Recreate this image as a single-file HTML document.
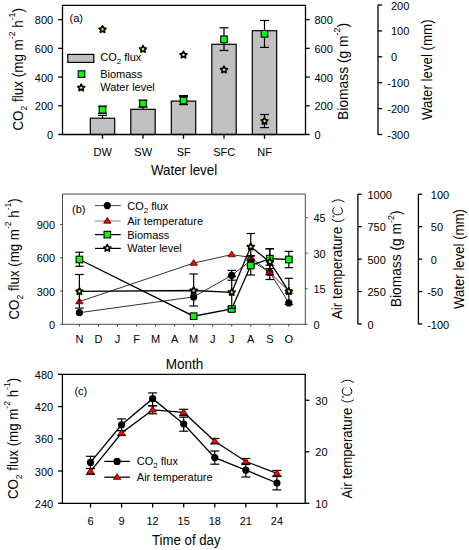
<!DOCTYPE html>
<html><head><meta charset="utf-8"><style>
html,body{margin:0;padding:0;background:#fff;}
body{width:469px;height:550px;overflow:hidden;font-family:"Liberation Sans",sans-serif;}
svg{display:block;}
</style></head><body>
<svg width="469" height="550" viewBox="0 0 469 550" font-family="Liberation Sans, sans-serif" fill="#000">
<rect width="469" height="550" fill="#fff"/>
<rect x="90.30" y="118.20" width="24.4" height="16.30" fill="#c0c0c0" stroke="#000" stroke-width="1.2"/>
<rect x="130.80" y="109.30" width="24.4" height="25.20" fill="#c0c0c0" stroke="#000" stroke-width="1.2"/>
<rect x="171.30" y="101.10" width="24.4" height="33.40" fill="#c0c0c0" stroke="#000" stroke-width="1.2"/>
<rect x="211.80" y="44.30" width="24.4" height="90.20" fill="#c0c0c0" stroke="#000" stroke-width="1.2"/>
<rect x="252.30" y="30.70" width="24.4" height="103.80" fill="#c0c0c0" stroke="#000" stroke-width="1.2"/>
<path d="M62.50,5.30 H305.50 V134.50 H62.50 Z" fill="none" stroke="#000" stroke-width="1.30"/>
<line x1="58.20" y1="134.50" x2="62.50" y2="134.50" stroke="#000" stroke-width="1.30"/>
<line x1="305.50" y1="134.50" x2="309.70" y2="134.50" stroke="#000" stroke-width="1.30"/>
<text x="53.20" y="139.00" font-size="11" text-anchor="end">0</text>
<text x="314.50" y="139.00" font-size="11" text-anchor="start">0</text>
<line x1="58.20" y1="105.78" x2="62.50" y2="105.78" stroke="#000" stroke-width="1.30"/>
<line x1="305.50" y1="105.78" x2="309.70" y2="105.78" stroke="#000" stroke-width="1.30"/>
<text x="53.20" y="110.28" font-size="11" text-anchor="end">200</text>
<text x="314.50" y="110.28" font-size="11" text-anchor="start">200</text>
<line x1="58.20" y1="77.05" x2="62.50" y2="77.05" stroke="#000" stroke-width="1.30"/>
<line x1="305.50" y1="77.05" x2="309.70" y2="77.05" stroke="#000" stroke-width="1.30"/>
<text x="53.20" y="81.55" font-size="11" text-anchor="end">400</text>
<text x="314.50" y="81.55" font-size="11" text-anchor="start">400</text>
<line x1="58.20" y1="48.33" x2="62.50" y2="48.33" stroke="#000" stroke-width="1.30"/>
<line x1="305.50" y1="48.33" x2="309.70" y2="48.33" stroke="#000" stroke-width="1.30"/>
<text x="53.20" y="52.83" font-size="11" text-anchor="end">600</text>
<text x="314.50" y="52.83" font-size="11" text-anchor="start">600</text>
<line x1="58.20" y1="19.60" x2="62.50" y2="19.60" stroke="#000" stroke-width="1.30"/>
<line x1="305.50" y1="19.60" x2="309.70" y2="19.60" stroke="#000" stroke-width="1.30"/>
<text x="53.20" y="24.10" font-size="11" text-anchor="end">800</text>
<text x="314.50" y="24.10" font-size="11" text-anchor="start">800</text>
<line x1="102.50" y1="134.50" x2="102.50" y2="138.80" stroke="#000" stroke-width="1.30"/>
<line x1="143.00" y1="134.50" x2="143.00" y2="138.80" stroke="#000" stroke-width="1.30"/>
<line x1="183.50" y1="134.50" x2="183.50" y2="138.80" stroke="#000" stroke-width="1.30"/>
<line x1="224.00" y1="134.50" x2="224.00" y2="138.80" stroke="#000" stroke-width="1.30"/>
<line x1="264.50" y1="134.50" x2="264.50" y2="138.80" stroke="#000" stroke-width="1.30"/>
<text x="102.70" y="155.70" font-size="11" text-anchor="middle">DW</text>
<text x="143.20" y="155.70" font-size="11" text-anchor="middle">SW</text>
<text x="183.70" y="155.70" font-size="11" text-anchor="middle">SF</text>
<text x="224.20" y="155.70" font-size="11" text-anchor="middle">SFC</text>
<text x="264.70" y="155.70" font-size="11" text-anchor="middle">NF</text>
<text x="184.10" y="174.50" font-size="14" text-anchor="middle" textLength="66.10" lengthAdjust="spacingAndGlyphs">Water level</text>
<line x1="378.00" y1="5.00" x2="378.00" y2="135.10" stroke="#000" stroke-width="1.30"/>
<line x1="378.00" y1="5.00" x2="382.20" y2="5.00" stroke="#000" stroke-width="1.30"/>
<text x="391.00" y="9.50" font-size="11" text-anchor="start">200</text>
<line x1="378.00" y1="30.90" x2="382.20" y2="30.90" stroke="#000" stroke-width="1.30"/>
<text x="391.00" y="35.40" font-size="11" text-anchor="start">100</text>
<line x1="378.00" y1="56.80" x2="382.20" y2="56.80" stroke="#000" stroke-width="1.30"/>
<text x="391.00" y="61.30" font-size="11" text-anchor="start">0</text>
<line x1="378.00" y1="82.70" x2="382.20" y2="82.70" stroke="#000" stroke-width="1.30"/>
<text x="387.34" y="87.20" font-size="11" text-anchor="start">-100</text>
<line x1="378.00" y1="108.60" x2="382.20" y2="108.60" stroke="#000" stroke-width="1.30"/>
<text x="387.34" y="113.10" font-size="11" text-anchor="start">-200</text>
<line x1="378.00" y1="134.50" x2="382.20" y2="134.50" stroke="#000" stroke-width="1.30"/>
<text x="387.34" y="139.00" font-size="11" text-anchor="start">-300</text>
<text transform="translate(22.50,130.60) rotate(-90)" font-size="14" text-anchor="start" textLength="122.50" lengthAdjust="spacingAndGlyphs">CO<tspan font-size="9" dy="4.0">2</tspan><tspan dy="-4.0"> flux (mg m</tspan><tspan font-size="9" dy="-7.8">-2</tspan><tspan dy="7.8"> h</tspan><tspan font-size="9" dy="-7.8">-1</tspan><tspan dy="7.8">)</tspan></text>
<text transform="translate(347.70,119.90) rotate(-90)" font-size="14" text-anchor="start" textLength="97.05" lengthAdjust="spacingAndGlyphs">Biomass (g m<tspan font-size="9" dy="-7.6">-2</tspan><tspan dy="7.6">)</tspan></text>
<text transform="translate(431.80,120.00) rotate(-90)" font-size="14" text-anchor="start" textLength="100.60" lengthAdjust="spacingAndGlyphs">Water level (mm)</text>
<text x="69.50" y="22.40" font-size="11" text-anchor="start">(a)</text>
<line x1="102.50" y1="115.40" x2="102.50" y2="118.20" stroke="#000" stroke-width="1.20"/><line x1="98.00" y1="115.40" x2="107.00" y2="115.40" stroke="#000" stroke-width="1.20"/>
<line x1="143.00" y1="107.00" x2="143.00" y2="109.30" stroke="#000" stroke-width="1.20"/><line x1="138.50" y1="107.00" x2="147.50" y2="107.00" stroke="#000" stroke-width="1.20"/>
<line x1="183.50" y1="95.60" x2="183.50" y2="101.10" stroke="#000" stroke-width="1.20"/><line x1="179.00" y1="95.60" x2="188.00" y2="95.60" stroke="#000" stroke-width="1.20"/>
<line x1="102.50" y1="106.10" x2="102.50" y2="113.50" stroke="#000" stroke-width="1.20"/><line x1="98.00" y1="106.10" x2="107.00" y2="106.10" stroke="#000" stroke-width="1.20"/><line x1="98.00" y1="113.50" x2="107.00" y2="113.50" stroke="#000" stroke-width="1.20"/>
<line x1="143.00" y1="100.30" x2="143.00" y2="106.80" stroke="#000" stroke-width="1.20"/><line x1="138.50" y1="100.30" x2="147.50" y2="100.30" stroke="#000" stroke-width="1.20"/><line x1="138.50" y1="106.80" x2="147.50" y2="106.80" stroke="#000" stroke-width="1.20"/>
<line x1="183.50" y1="96.60" x2="183.50" y2="104.60" stroke="#000" stroke-width="1.20"/><line x1="179.00" y1="96.60" x2="188.00" y2="96.60" stroke="#000" stroke-width="1.20"/><line x1="179.00" y1="104.60" x2="188.00" y2="104.60" stroke="#000" stroke-width="1.20"/>
<line x1="224.00" y1="27.80" x2="224.00" y2="50.50" stroke="#000" stroke-width="1.20"/><line x1="219.50" y1="27.80" x2="228.50" y2="27.80" stroke="#000" stroke-width="1.20"/><line x1="219.50" y1="50.50" x2="228.50" y2="50.50" stroke="#000" stroke-width="1.20"/>
<line x1="264.50" y1="20.50" x2="264.50" y2="47.40" stroke="#000" stroke-width="1.20"/><line x1="260.00" y1="20.50" x2="269.00" y2="20.50" stroke="#000" stroke-width="1.20"/><line x1="260.00" y1="47.40" x2="269.00" y2="47.40" stroke="#000" stroke-width="1.20"/>
<rect x="99.20" y="106.50" width="6.60" height="6.60" fill="#00ff00" stroke="#000" stroke-width="1.10"/>
<rect x="139.70" y="100.20" width="6.60" height="6.60" fill="#00ff00" stroke="#000" stroke-width="1.10"/>
<rect x="180.20" y="97.20" width="6.60" height="6.60" fill="#00ff00" stroke="#000" stroke-width="1.10"/>
<rect x="220.70" y="36.00" width="6.60" height="6.60" fill="#00ff00" stroke="#000" stroke-width="1.10"/>
<rect x="261.20" y="30.50" width="6.60" height="6.60" fill="#00ff00" stroke="#000" stroke-width="1.10"/>
<line x1="264.50" y1="114.50" x2="264.50" y2="127.60" stroke="#000" stroke-width="1.20"/><line x1="260.00" y1="114.50" x2="269.00" y2="114.50" stroke="#000" stroke-width="1.20"/><line x1="260.00" y1="127.60" x2="269.00" y2="127.60" stroke="#000" stroke-width="1.20"/>
<polygon points="102.50,25.80 103.56,27.94 105.92,28.29 104.21,29.96 104.62,32.31 102.50,31.20 100.38,32.31 100.79,29.96 99.08,28.29 101.44,27.94" fill="#ffff00" stroke="#000" stroke-width="1.70" stroke-linejoin="round"/>
<polygon points="143.00,45.60 144.06,47.74 146.42,48.09 144.71,49.76 145.12,52.11 143.00,51.00 140.88,52.11 141.29,49.76 139.58,48.09 141.94,47.74" fill="#ffff00" stroke="#000" stroke-width="1.70" stroke-linejoin="round"/>
<polygon points="183.50,51.30 184.56,53.44 186.92,53.79 185.21,55.46 185.62,57.81 183.50,56.70 181.38,57.81 181.79,55.46 180.08,53.79 182.44,53.44" fill="#ffff00" stroke="#000" stroke-width="1.70" stroke-linejoin="round"/>
<polygon points="224.00,66.20 225.06,68.34 227.42,68.69 225.71,70.36 226.12,72.71 224.00,71.60 221.88,72.71 222.29,70.36 220.58,68.69 222.94,68.34" fill="#ffff00" stroke="#000" stroke-width="1.70" stroke-linejoin="round"/>
<polygon points="264.50,117.50 265.56,119.64 267.92,119.99 266.21,121.66 266.62,124.01 264.50,122.90 262.38,124.01 262.79,121.66 261.08,119.99 263.44,119.64" fill="#ffff00" stroke="#000" stroke-width="1.70" stroke-linejoin="round"/>
<rect x="67.8" y="54.4" width="26" height="8" fill="#c0c0c0" stroke="#000" stroke-width="1.2"/>
<text x="100.20" y="61.00" font-size="11" text-anchor="start">CO<tspan font-size="8" dy="3">2</tspan><tspan dy="-3"> flux</tspan></text>
<rect x="78.20" y="70.80" width="6.60" height="6.60" fill="#00ff00" stroke="#000" stroke-width="1.10"/>
<text x="100.20" y="78.00" font-size="11" text-anchor="start">Biomass</text>
<polygon points="81.20,84.20 82.26,86.34 84.62,86.69 82.91,88.36 83.32,90.71 81.20,89.60 79.08,90.71 79.49,88.36 77.78,86.69 80.14,86.34" fill="#ffff00" stroke="#000" stroke-width="1.70" stroke-linejoin="round"/>
<text x="100.20" y="91.20" font-size="11" text-anchor="start">Water level</text>
<path d="M62.50,194.00 H305.30 V324.30 H62.50 Z" fill="none" stroke="#4a4a4a" stroke-width="1.00"/>
<line x1="60.10" y1="324.30" x2="62.50" y2="324.30" stroke="#4a4a4a" stroke-width="1.00"/>
<text x="55.10" y="328.80" font-size="11" text-anchor="end">0</text>
<line x1="60.10" y1="291.03" x2="62.50" y2="291.03" stroke="#4a4a4a" stroke-width="1.00"/>
<text x="55.10" y="295.53" font-size="11" text-anchor="end">300</text>
<line x1="60.10" y1="257.77" x2="62.50" y2="257.77" stroke="#4a4a4a" stroke-width="1.00"/>
<text x="55.10" y="262.27" font-size="11" text-anchor="end">600</text>
<line x1="60.10" y1="224.50" x2="62.50" y2="224.50" stroke="#4a4a4a" stroke-width="1.00"/>
<text x="55.10" y="229.00" font-size="11" text-anchor="end">900</text>
<line x1="305.30" y1="324.30" x2="307.70" y2="324.30" stroke="#4a4a4a" stroke-width="1.00"/>
<text x="313.50" y="328.80" font-size="11" text-anchor="start">0</text>
<line x1="305.30" y1="288.75" x2="307.70" y2="288.75" stroke="#4a4a4a" stroke-width="1.00"/>
<text x="313.50" y="293.25" font-size="11" text-anchor="start">15</text>
<line x1="305.30" y1="253.20" x2="307.70" y2="253.20" stroke="#4a4a4a" stroke-width="1.00"/>
<text x="313.50" y="257.70" font-size="11" text-anchor="start">30</text>
<line x1="305.30" y1="217.65" x2="307.70" y2="217.65" stroke="#4a4a4a" stroke-width="1.00"/>
<text x="313.50" y="222.15" font-size="11" text-anchor="start">45</text>
<line x1="79.40" y1="324.30" x2="79.40" y2="326.70" stroke="#4a4a4a" stroke-width="1.00"/>
<text x="79.40" y="342.60" font-size="11" text-anchor="middle">N</text>
<line x1="98.44" y1="324.30" x2="98.44" y2="326.70" stroke="#4a4a4a" stroke-width="1.00"/>
<text x="98.44" y="342.60" font-size="11" text-anchor="middle">D</text>
<line x1="117.48" y1="324.30" x2="117.48" y2="326.70" stroke="#4a4a4a" stroke-width="1.00"/>
<text x="117.48" y="342.60" font-size="11" text-anchor="middle">J</text>
<line x1="136.52" y1="324.30" x2="136.52" y2="326.70" stroke="#4a4a4a" stroke-width="1.00"/>
<text x="136.52" y="342.60" font-size="11" text-anchor="middle">F</text>
<line x1="155.56" y1="324.30" x2="155.56" y2="326.70" stroke="#4a4a4a" stroke-width="1.00"/>
<text x="155.56" y="342.60" font-size="11" text-anchor="middle">M</text>
<line x1="174.60" y1="324.30" x2="174.60" y2="326.70" stroke="#4a4a4a" stroke-width="1.00"/>
<text x="174.60" y="342.60" font-size="11" text-anchor="middle">A</text>
<line x1="193.64" y1="324.30" x2="193.64" y2="326.70" stroke="#4a4a4a" stroke-width="1.00"/>
<text x="193.64" y="342.60" font-size="11" text-anchor="middle">M</text>
<line x1="212.68" y1="324.30" x2="212.68" y2="326.70" stroke="#4a4a4a" stroke-width="1.00"/>
<text x="212.68" y="342.60" font-size="11" text-anchor="middle">J</text>
<line x1="231.72" y1="324.30" x2="231.72" y2="326.70" stroke="#4a4a4a" stroke-width="1.00"/>
<text x="231.72" y="342.60" font-size="11" text-anchor="middle">J</text>
<line x1="250.76" y1="324.30" x2="250.76" y2="326.70" stroke="#4a4a4a" stroke-width="1.00"/>
<text x="250.76" y="342.60" font-size="11" text-anchor="middle">A</text>
<line x1="269.80" y1="324.30" x2="269.80" y2="326.70" stroke="#4a4a4a" stroke-width="1.00"/>
<text x="269.80" y="342.60" font-size="11" text-anchor="middle">S</text>
<line x1="288.84" y1="324.30" x2="288.84" y2="326.70" stroke="#4a4a4a" stroke-width="1.00"/>
<text x="288.84" y="342.60" font-size="11" text-anchor="middle">O</text>
<text x="184.50" y="368.90" font-size="14" text-anchor="middle" textLength="37.60" lengthAdjust="spacingAndGlyphs">Month</text>
<line x1="357.90" y1="194.00" x2="357.90" y2="324.30" stroke="#000" stroke-width="1.30"/>
<line x1="357.90" y1="324.00" x2="361.70" y2="324.00" stroke="#000" stroke-width="1.30"/>
<text x="367.50" y="328.50" font-size="11" text-anchor="start">0</text>
<line x1="357.90" y1="291.55" x2="361.70" y2="291.55" stroke="#000" stroke-width="1.30"/>
<text x="367.50" y="296.05" font-size="11" text-anchor="start">250</text>
<line x1="357.90" y1="259.10" x2="361.70" y2="259.10" stroke="#000" stroke-width="1.30"/>
<text x="367.50" y="263.60" font-size="11" text-anchor="start">500</text>
<line x1="357.90" y1="226.65" x2="361.70" y2="226.65" stroke="#000" stroke-width="1.30"/>
<text x="367.50" y="231.15" font-size="11" text-anchor="start">750</text>
<line x1="357.90" y1="194.20" x2="361.70" y2="194.20" stroke="#000" stroke-width="1.30"/>
<text x="367.50" y="198.70" font-size="11" text-anchor="start">1000</text>
<line x1="418.40" y1="194.00" x2="418.40" y2="324.30" stroke="#000" stroke-width="1.30"/>
<line x1="418.40" y1="324.00" x2="422.20" y2="324.00" stroke="#000" stroke-width="1.30"/>
<text x="427.14" y="328.50" font-size="11" text-anchor="start">-100</text>
<line x1="418.40" y1="291.55" x2="422.20" y2="291.55" stroke="#000" stroke-width="1.30"/>
<text x="427.14" y="296.05" font-size="11" text-anchor="start">-50</text>
<line x1="418.40" y1="259.10" x2="422.20" y2="259.10" stroke="#000" stroke-width="1.30"/>
<text x="430.80" y="263.60" font-size="11" text-anchor="start">0</text>
<line x1="418.40" y1="226.65" x2="422.20" y2="226.65" stroke="#000" stroke-width="1.30"/>
<text x="430.80" y="231.15" font-size="11" text-anchor="start">50</text>
<line x1="418.40" y1="194.20" x2="422.20" y2="194.20" stroke="#000" stroke-width="1.30"/>
<text x="430.80" y="198.70" font-size="11" text-anchor="start">100</text>
<text transform="translate(19.00,319.50) rotate(-90)" font-size="14" text-anchor="start" textLength="121.20" lengthAdjust="spacingAndGlyphs">CO<tspan font-size="9" dy="4.0">2</tspan><tspan dy="-4.0"> flux (mg m</tspan><tspan font-size="9" dy="-7.8">-2</tspan><tspan dy="7.8"> h</tspan><tspan font-size="9" dy="-7.8">-1</tspan><tspan dy="7.8">)</tspan></text>
<text transform="translate(342.40,319.20) rotate(-90)" font-size="14" text-anchor="start" textLength="92.50" lengthAdjust="spacingAndGlyphs">Air temperature</text>
<g transform="translate(342.40,222.30) rotate(-90)" fill="none" stroke="#000" stroke-width="0.95"><path d="M3.0,-10.6 Q-1.6,-4.2 3.0,2.1"/><circle cx="5.9" cy="-8.9" r="0.75" stroke-width="0.6"/><path d="M14.9,-7.8 Q14.0,-9.6 11.3,-9.6 Q7.5,-9.6 7.5,-4.8 Q7.5,0.0 11.3,0.0 Q14.0,0.0 15.0,-2.0"/><path d="M20.2,-10.6 Q24.8,-4.2 20.2,2.1"/></g>
<text transform="translate(401.20,307.20) rotate(-90)" font-size="14" text-anchor="start" textLength="96.75" lengthAdjust="spacingAndGlyphs">Biomass (g m<tspan font-size="9" dy="-7.6">-2</tspan><tspan dy="7.6">)</tspan></text>
<text transform="translate(463.60,309.00) rotate(-90)" font-size="14" text-anchor="start" textLength="100.00" lengthAdjust="spacingAndGlyphs">Water level (mm)</text>
<text x="72.00" y="212.80" font-size="11" text-anchor="start">(b)</text>
<polyline points="79.40,312.70 193.64,296.90 231.72,275.30 250.76,260.60 269.80,272.30 288.84,302.90" fill="none" stroke="#333" stroke-width="1.00" stroke-linejoin="miter"/>
<polyline points="79.40,301.60 193.64,263.10 231.72,254.60 250.76,257.40 269.80,272.40 288.84,291.20" fill="none" stroke="#333" stroke-width="1.00" stroke-linejoin="miter"/>
<polyline points="79.40,259.50 193.64,316.20 231.72,309.00 250.76,265.50 269.80,258.60 288.84,259.50" fill="none" stroke="#000" stroke-width="1.30" stroke-linejoin="miter"/>
<polyline points="79.40,291.40 193.64,290.50 231.72,292.30 250.76,246.80 269.80,261.90 288.84,291.40" fill="none" stroke="#000" stroke-width="1.30" stroke-linejoin="miter"/>
<line x1="231.72" y1="270.40" x2="231.72" y2="280.20" stroke="#000" stroke-width="1.20"/><line x1="227.47" y1="270.40" x2="235.97" y2="270.40" stroke="#000" stroke-width="1.20"/><line x1="227.47" y1="280.20" x2="235.97" y2="280.20" stroke="#000" stroke-width="1.20"/>
<line x1="250.76" y1="255.70" x2="250.76" y2="265.50" stroke="#000" stroke-width="1.20"/><line x1="246.51" y1="255.70" x2="255.01" y2="255.70" stroke="#000" stroke-width="1.20"/><line x1="246.51" y1="265.50" x2="255.01" y2="265.50" stroke="#000" stroke-width="1.20"/>
<line x1="269.80" y1="265.30" x2="269.80" y2="279.50" stroke="#000" stroke-width="1.20"/><line x1="265.55" y1="265.30" x2="274.05" y2="265.30" stroke="#000" stroke-width="1.20"/><line x1="265.55" y1="279.50" x2="274.05" y2="279.50" stroke="#000" stroke-width="1.20"/>
<circle cx="79.40" cy="312.70" r="3.60" fill="#000"/>
<circle cx="193.64" cy="296.90" r="3.60" fill="#000"/>
<circle cx="231.72" cy="275.30" r="3.60" fill="#000"/>
<circle cx="250.76" cy="260.60" r="3.60" fill="#000"/>
<circle cx="269.80" cy="272.30" r="3.60" fill="#000"/>
<circle cx="288.84" cy="302.90" r="3.60" fill="#000"/>
<polygon points="79.40,298.07 75.70,303.77 83.10,303.77" fill="#ff0000" stroke="#300" stroke-width="0.80" stroke-linejoin="miter"/>
<polygon points="193.64,259.57 189.94,265.27 197.34,265.27" fill="#ff0000" stroke="#300" stroke-width="0.80" stroke-linejoin="miter"/>
<polygon points="231.72,251.07 228.02,256.77 235.42,256.77" fill="#ff0000" stroke="#300" stroke-width="0.80" stroke-linejoin="miter"/>
<polygon points="250.76,253.87 247.06,259.57 254.46,259.57" fill="#ff0000" stroke="#300" stroke-width="0.80" stroke-linejoin="miter"/>
<polygon points="269.80,268.87 266.10,274.57 273.50,274.57" fill="#ff0000" stroke="#300" stroke-width="0.80" stroke-linejoin="miter"/>
<polygon points="288.84,287.67 285.14,293.37 292.54,293.37" fill="#ff0000" stroke="#300" stroke-width="0.80" stroke-linejoin="miter"/>
<line x1="79.40" y1="252.20" x2="79.40" y2="266.30" stroke="#000" stroke-width="1.20"/><line x1="75.15" y1="252.20" x2="83.65" y2="252.20" stroke="#000" stroke-width="1.20"/><line x1="75.15" y1="266.30" x2="83.65" y2="266.30" stroke="#000" stroke-width="1.20"/>
<line x1="231.72" y1="306.80" x2="231.72" y2="311.20" stroke="#000" stroke-width="1.20"/><line x1="227.47" y1="306.80" x2="235.97" y2="306.80" stroke="#000" stroke-width="1.20"/><line x1="227.47" y1="311.20" x2="235.97" y2="311.20" stroke="#000" stroke-width="1.20"/>
<line x1="250.76" y1="256.00" x2="250.76" y2="275.00" stroke="#000" stroke-width="1.20"/><line x1="246.51" y1="256.00" x2="255.01" y2="256.00" stroke="#000" stroke-width="1.20"/><line x1="246.51" y1="275.00" x2="255.01" y2="275.00" stroke="#000" stroke-width="1.20"/>
<line x1="269.80" y1="248.60" x2="269.80" y2="268.60" stroke="#000" stroke-width="1.20"/><line x1="265.55" y1="248.60" x2="274.05" y2="248.60" stroke="#000" stroke-width="1.20"/><line x1="265.55" y1="268.60" x2="274.05" y2="268.60" stroke="#000" stroke-width="1.20"/>
<line x1="288.84" y1="251.40" x2="288.84" y2="267.70" stroke="#000" stroke-width="1.20"/><line x1="284.59" y1="251.40" x2="293.09" y2="251.40" stroke="#000" stroke-width="1.20"/><line x1="284.59" y1="267.70" x2="293.09" y2="267.70" stroke="#000" stroke-width="1.20"/>
<rect x="76.10" y="256.20" width="6.60" height="6.60" fill="#00ff00" stroke="#000" stroke-width="1.10"/>
<rect x="190.34" y="312.90" width="6.60" height="6.60" fill="#00ff00" stroke="#000" stroke-width="1.10"/>
<rect x="228.42" y="305.70" width="6.60" height="6.60" fill="#00ff00" stroke="#000" stroke-width="1.10"/>
<rect x="247.46" y="262.20" width="6.60" height="6.60" fill="#00ff00" stroke="#000" stroke-width="1.10"/>
<rect x="266.50" y="255.30" width="6.60" height="6.60" fill="#00ff00" stroke="#000" stroke-width="1.10"/>
<rect x="285.54" y="256.20" width="6.60" height="6.60" fill="#00ff00" stroke="#000" stroke-width="1.10"/>
<line x1="79.40" y1="274.50" x2="79.40" y2="308.10" stroke="#000" stroke-width="1.20"/><line x1="75.15" y1="274.50" x2="83.65" y2="274.50" stroke="#000" stroke-width="1.20"/><line x1="75.15" y1="308.10" x2="83.65" y2="308.10" stroke="#000" stroke-width="1.20"/>
<line x1="193.64" y1="274.00" x2="193.64" y2="306.00" stroke="#000" stroke-width="1.20"/><line x1="189.39" y1="274.00" x2="197.89" y2="274.00" stroke="#000" stroke-width="1.20"/><line x1="189.39" y1="306.00" x2="197.89" y2="306.00" stroke="#000" stroke-width="1.20"/>
<line x1="231.72" y1="276.30" x2="231.72" y2="308.40" stroke="#000" stroke-width="1.20"/><line x1="227.47" y1="276.30" x2="235.97" y2="276.30" stroke="#000" stroke-width="1.20"/><line x1="227.47" y1="308.40" x2="235.97" y2="308.40" stroke="#000" stroke-width="1.20"/>
<line x1="250.76" y1="233.50" x2="250.76" y2="260.10" stroke="#000" stroke-width="1.20"/><line x1="246.51" y1="233.50" x2="255.01" y2="233.50" stroke="#000" stroke-width="1.20"/><line x1="246.51" y1="260.10" x2="255.01" y2="260.10" stroke="#000" stroke-width="1.20"/>
<line x1="269.80" y1="248.90" x2="269.80" y2="274.90" stroke="#000" stroke-width="1.20"/><line x1="265.55" y1="248.90" x2="274.05" y2="248.90" stroke="#000" stroke-width="1.20"/><line x1="265.55" y1="274.90" x2="274.05" y2="274.90" stroke="#000" stroke-width="1.20"/>
<line x1="288.84" y1="278.30" x2="288.84" y2="304.40" stroke="#000" stroke-width="1.20"/><line x1="284.59" y1="278.30" x2="293.09" y2="278.30" stroke="#000" stroke-width="1.20"/><line x1="284.59" y1="304.40" x2="293.09" y2="304.40" stroke="#000" stroke-width="1.20"/>
<polygon points="79.40,287.80 80.46,289.94 82.82,290.29 81.11,291.96 81.52,294.31 79.40,293.20 77.28,294.31 77.69,291.96 75.98,290.29 78.34,289.94" fill="#ffff00" stroke="#000" stroke-width="1.70" stroke-linejoin="round"/>
<polygon points="193.64,286.90 194.70,289.04 197.06,289.39 195.35,291.06 195.76,293.41 193.64,292.30 191.52,293.41 191.93,291.06 190.22,289.39 192.58,289.04" fill="#ffff00" stroke="#000" stroke-width="1.70" stroke-linejoin="round"/>
<polygon points="231.72,288.70 232.78,290.84 235.14,291.19 233.43,292.86 233.84,295.21 231.72,294.10 229.60,295.21 230.01,292.86 228.30,291.19 230.66,290.84" fill="#ffff00" stroke="#000" stroke-width="1.70" stroke-linejoin="round"/>
<polygon points="250.76,243.20 251.82,245.34 254.18,245.69 252.47,247.36 252.88,249.71 250.76,248.60 248.64,249.71 249.05,247.36 247.34,245.69 249.70,245.34" fill="#ffff00" stroke="#000" stroke-width="1.70" stroke-linejoin="round"/>
<polygon points="269.80,258.30 270.86,260.44 273.22,260.79 271.51,262.46 271.92,264.81 269.80,263.70 267.68,264.81 268.09,262.46 266.38,260.79 268.74,260.44" fill="#ffff00" stroke="#000" stroke-width="1.70" stroke-linejoin="round"/>
<polygon points="288.84,287.80 289.90,289.94 292.26,290.29 290.55,291.96 290.96,294.31 288.84,293.20 286.72,294.31 287.13,291.96 285.42,290.29 287.78,289.94" fill="#ffff00" stroke="#000" stroke-width="1.70" stroke-linejoin="round"/>
<line x1="95.00" y1="205.60" x2="120.80" y2="205.60" stroke="#333" stroke-width="0.90"/>
<circle cx="107.30" cy="205.60" r="3.60" fill="#000"/>
<line x1="95.00" y1="221.00" x2="120.80" y2="221.00" stroke="#999" stroke-width="1.20"/>
<polygon points="107.30,217.47 103.60,223.17 111.00,223.17" fill="#ff0000" stroke="#300" stroke-width="0.80" stroke-linejoin="miter"/>
<line x1="95.00" y1="234.60" x2="120.80" y2="234.60" stroke="#000" stroke-width="1.20"/>
<rect x="104.00" y="231.30" width="6.60" height="6.60" fill="#00ff00" stroke="#000" stroke-width="1.10"/>
<line x1="95.00" y1="248.40" x2="120.80" y2="248.40" stroke="#000" stroke-width="1.20"/>
<polygon points="107.30,244.60 108.36,246.74 110.72,247.09 109.01,248.76 109.42,251.11 107.30,250.00 105.18,251.11 105.59,248.76 103.88,247.09 106.24,246.74" fill="#ffff00" stroke="#000" stroke-width="1.70" stroke-linejoin="round"/>
<text x="127.20" y="209.60" font-size="11" text-anchor="start">CO<tspan font-size="8" dy="3">2</tspan><tspan dy="-3"> flux</tspan></text>
<text x="127.20" y="225.00" font-size="11" text-anchor="start">Air temperature</text>
<text x="127.20" y="238.60" font-size="11" text-anchor="start">Biomass</text>
<text x="127.20" y="252.40" font-size="11" text-anchor="start">Water level</text>
<path d="M62.40,374.30 H305.20 V503.30 H62.40 Z" fill="none" stroke="#000" stroke-width="1.30"/>
<line x1="58.10" y1="503.30" x2="62.40" y2="503.30" stroke="#000" stroke-width="1.30"/>
<text x="53.20" y="507.80" font-size="11" text-anchor="end">240</text>
<line x1="58.10" y1="471.05" x2="62.40" y2="471.05" stroke="#000" stroke-width="1.30"/>
<text x="53.20" y="475.55" font-size="11" text-anchor="end">300</text>
<line x1="58.10" y1="438.80" x2="62.40" y2="438.80" stroke="#000" stroke-width="1.30"/>
<text x="53.20" y="443.30" font-size="11" text-anchor="end">360</text>
<line x1="58.10" y1="406.55" x2="62.40" y2="406.55" stroke="#000" stroke-width="1.30"/>
<text x="53.20" y="411.05" font-size="11" text-anchor="end">420</text>
<line x1="58.10" y1="374.30" x2="62.40" y2="374.30" stroke="#000" stroke-width="1.30"/>
<text x="53.20" y="378.80" font-size="11" text-anchor="end">480</text>
<line x1="305.20" y1="503.30" x2="309.40" y2="503.30" stroke="#000" stroke-width="1.30"/>
<text x="315.30" y="507.80" font-size="11" text-anchor="start">10</text>
<line x1="305.20" y1="451.80" x2="309.40" y2="451.80" stroke="#000" stroke-width="1.30"/>
<text x="315.30" y="456.30" font-size="11" text-anchor="start">20</text>
<line x1="305.20" y1="400.30" x2="309.40" y2="400.30" stroke="#000" stroke-width="1.30"/>
<text x="315.30" y="404.80" font-size="11" text-anchor="start">30</text>
<line x1="90.50" y1="503.30" x2="90.50" y2="507.60" stroke="#000" stroke-width="1.30"/>
<text x="90.50" y="525.00" font-size="11" text-anchor="middle">6</text>
<line x1="121.57" y1="503.30" x2="121.57" y2="507.60" stroke="#000" stroke-width="1.30"/>
<text x="121.57" y="525.00" font-size="11" text-anchor="middle">9</text>
<line x1="152.64" y1="503.30" x2="152.64" y2="507.60" stroke="#000" stroke-width="1.30"/>
<text x="152.64" y="525.00" font-size="11" text-anchor="middle">12</text>
<line x1="183.71" y1="503.30" x2="183.71" y2="507.60" stroke="#000" stroke-width="1.30"/>
<text x="183.71" y="525.00" font-size="11" text-anchor="middle">15</text>
<line x1="214.78" y1="503.30" x2="214.78" y2="507.60" stroke="#000" stroke-width="1.30"/>
<text x="214.78" y="525.00" font-size="11" text-anchor="middle">18</text>
<line x1="245.85" y1="503.30" x2="245.85" y2="507.60" stroke="#000" stroke-width="1.30"/>
<text x="245.85" y="525.00" font-size="11" text-anchor="middle">21</text>
<line x1="276.92" y1="503.30" x2="276.92" y2="507.60" stroke="#000" stroke-width="1.30"/>
<text x="276.92" y="525.00" font-size="11" text-anchor="middle">24</text>
<text x="186.30" y="545.20" font-size="14" text-anchor="middle" textLength="68.50" lengthAdjust="spacingAndGlyphs">Time of day</text>
<text transform="translate(17.50,499.10) rotate(-90)" font-size="14" text-anchor="start" textLength="121.20" lengthAdjust="spacingAndGlyphs">CO<tspan font-size="9" dy="4.0">2</tspan><tspan dy="-4.0"> flux (mg m</tspan><tspan font-size="9" dy="-7.8">-2</tspan><tspan dy="7.8"> h</tspan><tspan font-size="9" dy="-7.8">-1</tspan><tspan dy="7.8">)</tspan></text>
<text transform="translate(351.80,498.50) rotate(-90)" font-size="14" text-anchor="start" textLength="90.90" lengthAdjust="spacingAndGlyphs">Air temperature</text>
<g transform="translate(351.80,402.70) rotate(-90)" fill="none" stroke="#000" stroke-width="0.95"><path d="M3.0,-10.6 Q-1.6,-4.2 3.0,2.1"/><circle cx="5.9" cy="-8.9" r="0.75" stroke-width="0.6"/><path d="M14.9,-7.8 Q14.0,-9.6 11.3,-9.6 Q7.5,-9.6 7.5,-4.8 Q7.5,0.0 11.3,0.0 Q14.0,0.0 15.0,-2.0"/><path d="M20.2,-10.6 Q24.8,-4.2 20.2,2.1"/></g>
<text x="74.40" y="394.60" font-size="11" text-anchor="start">(c)</text>
<polyline points="90.50,462.40 121.57,424.80 152.64,398.70 183.71,424.00 214.78,457.60 245.85,470.10 276.92,483.00" fill="none" stroke="#000" stroke-width="1.30" stroke-linejoin="miter"/>
<polyline points="90.50,471.40 121.57,433.00 152.64,409.90 183.71,412.40 214.78,441.20 245.85,461.50 276.92,473.40" fill="none" stroke="#000" stroke-width="1.30" stroke-linejoin="miter"/>
<line x1="90.50" y1="456.30" x2="90.50" y2="468.50" stroke="#000" stroke-width="1.20"/><line x1="86.00" y1="456.30" x2="95.00" y2="456.30" stroke="#000" stroke-width="1.20"/><line x1="86.00" y1="468.50" x2="95.00" y2="468.50" stroke="#000" stroke-width="1.20"/>
<line x1="121.57" y1="418.90" x2="121.57" y2="430.70" stroke="#000" stroke-width="1.20"/><line x1="117.07" y1="418.90" x2="126.07" y2="418.90" stroke="#000" stroke-width="1.20"/><line x1="117.07" y1="430.70" x2="126.07" y2="430.70" stroke="#000" stroke-width="1.20"/>
<line x1="152.64" y1="392.90" x2="152.64" y2="405.60" stroke="#000" stroke-width="1.20"/><line x1="148.14" y1="392.90" x2="157.14" y2="392.90" stroke="#000" stroke-width="1.20"/><line x1="148.14" y1="405.60" x2="157.14" y2="405.60" stroke="#000" stroke-width="1.20"/>
<line x1="183.71" y1="417.10" x2="183.71" y2="431.20" stroke="#000" stroke-width="1.20"/><line x1="179.21" y1="417.10" x2="188.21" y2="417.10" stroke="#000" stroke-width="1.20"/><line x1="179.21" y1="431.20" x2="188.21" y2="431.20" stroke="#000" stroke-width="1.20"/>
<line x1="214.78" y1="451.00" x2="214.78" y2="464.20" stroke="#000" stroke-width="1.20"/><line x1="210.28" y1="451.00" x2="219.28" y2="451.00" stroke="#000" stroke-width="1.20"/><line x1="210.28" y1="464.20" x2="219.28" y2="464.20" stroke="#000" stroke-width="1.20"/>
<line x1="245.85" y1="463.50" x2="245.85" y2="477.00" stroke="#000" stroke-width="1.20"/><line x1="241.35" y1="463.50" x2="250.35" y2="463.50" stroke="#000" stroke-width="1.20"/><line x1="241.35" y1="477.00" x2="250.35" y2="477.00" stroke="#000" stroke-width="1.20"/>
<line x1="276.92" y1="476.50" x2="276.92" y2="489.90" stroke="#000" stroke-width="1.20"/><line x1="272.42" y1="476.50" x2="281.42" y2="476.50" stroke="#000" stroke-width="1.20"/><line x1="272.42" y1="489.90" x2="281.42" y2="489.90" stroke="#000" stroke-width="1.20"/>
<line x1="90.50" y1="468.50" x2="90.50" y2="474.30" stroke="#000" stroke-width="1.20"/><line x1="86.00" y1="468.50" x2="95.00" y2="468.50" stroke="#000" stroke-width="1.20"/><line x1="86.00" y1="474.30" x2="95.00" y2="474.30" stroke="#000" stroke-width="1.20"/>
<line x1="121.57" y1="430.50" x2="121.57" y2="435.50" stroke="#000" stroke-width="1.20"/><line x1="117.07" y1="430.50" x2="126.07" y2="430.50" stroke="#000" stroke-width="1.20"/><line x1="117.07" y1="435.50" x2="126.07" y2="435.50" stroke="#000" stroke-width="1.20"/>
<line x1="152.64" y1="406.00" x2="152.64" y2="413.80" stroke="#000" stroke-width="1.20"/><line x1="148.14" y1="406.00" x2="157.14" y2="406.00" stroke="#000" stroke-width="1.20"/><line x1="148.14" y1="413.80" x2="157.14" y2="413.80" stroke="#000" stroke-width="1.20"/>
<line x1="183.71" y1="409.30" x2="183.71" y2="415.50" stroke="#000" stroke-width="1.20"/><line x1="179.21" y1="409.30" x2="188.21" y2="409.30" stroke="#000" stroke-width="1.20"/><line x1="179.21" y1="415.50" x2="188.21" y2="415.50" stroke="#000" stroke-width="1.20"/>
<line x1="214.78" y1="438.50" x2="214.78" y2="443.90" stroke="#000" stroke-width="1.20"/><line x1="210.28" y1="438.50" x2="219.28" y2="438.50" stroke="#000" stroke-width="1.20"/><line x1="210.28" y1="443.90" x2="219.28" y2="443.90" stroke="#000" stroke-width="1.20"/>
<line x1="245.85" y1="458.50" x2="245.85" y2="464.50" stroke="#000" stroke-width="1.20"/><line x1="241.35" y1="458.50" x2="250.35" y2="458.50" stroke="#000" stroke-width="1.20"/><line x1="241.35" y1="464.50" x2="250.35" y2="464.50" stroke="#000" stroke-width="1.20"/>
<line x1="276.92" y1="470.50" x2="276.92" y2="476.30" stroke="#000" stroke-width="1.20"/><line x1="272.42" y1="470.50" x2="281.42" y2="470.50" stroke="#000" stroke-width="1.20"/><line x1="272.42" y1="476.30" x2="281.42" y2="476.30" stroke="#000" stroke-width="1.20"/>
<circle cx="90.50" cy="462.40" r="3.60" fill="#000"/>
<circle cx="121.57" cy="424.80" r="3.60" fill="#000"/>
<circle cx="152.64" cy="398.70" r="3.60" fill="#000"/>
<circle cx="183.71" cy="424.00" r="3.60" fill="#000"/>
<circle cx="214.78" cy="457.60" r="3.60" fill="#000"/>
<circle cx="245.85" cy="470.10" r="3.60" fill="#000"/>
<circle cx="276.92" cy="483.00" r="3.60" fill="#000"/>
<polygon points="90.50,467.87 86.80,473.57 94.20,473.57" fill="#ff0000" stroke="#300" stroke-width="0.80" stroke-linejoin="miter"/>
<polygon points="121.57,429.47 117.87,435.17 125.27,435.17" fill="#ff0000" stroke="#300" stroke-width="0.80" stroke-linejoin="miter"/>
<polygon points="152.64,406.37 148.94,412.07 156.34,412.07" fill="#ff0000" stroke="#300" stroke-width="0.80" stroke-linejoin="miter"/>
<polygon points="183.71,408.87 180.01,414.57 187.41,414.57" fill="#ff0000" stroke="#300" stroke-width="0.80" stroke-linejoin="miter"/>
<polygon points="214.78,437.67 211.08,443.37 218.48,443.37" fill="#ff0000" stroke="#300" stroke-width="0.80" stroke-linejoin="miter"/>
<polygon points="245.85,457.97 242.15,463.67 249.55,463.67" fill="#ff0000" stroke="#300" stroke-width="0.80" stroke-linejoin="miter"/>
<polygon points="276.92,469.87 273.22,475.57 280.62,475.57" fill="#ff0000" stroke="#300" stroke-width="0.80" stroke-linejoin="miter"/>
<line x1="104.30" y1="461.40" x2="129.90" y2="461.40" stroke="#000" stroke-width="1.30"/>
<circle cx="117.10" cy="461.40" r="3.60" fill="#000"/>
<line x1="104.30" y1="477.20" x2="129.90" y2="477.20" stroke="#000" stroke-width="1.30"/>
<polygon points="117.10,473.67 113.40,479.37 120.80,479.37" fill="#ff0000" stroke="#300" stroke-width="0.80" stroke-linejoin="miter"/>
<text x="136.80" y="465.20" font-size="11" text-anchor="start">CO<tspan font-size="8" dy="3">2</tspan><tspan dy="-3"> flux</tspan></text>
<text x="136.80" y="481.00" font-size="11" text-anchor="start">Air temperature</text>
</svg>
</body></html>
